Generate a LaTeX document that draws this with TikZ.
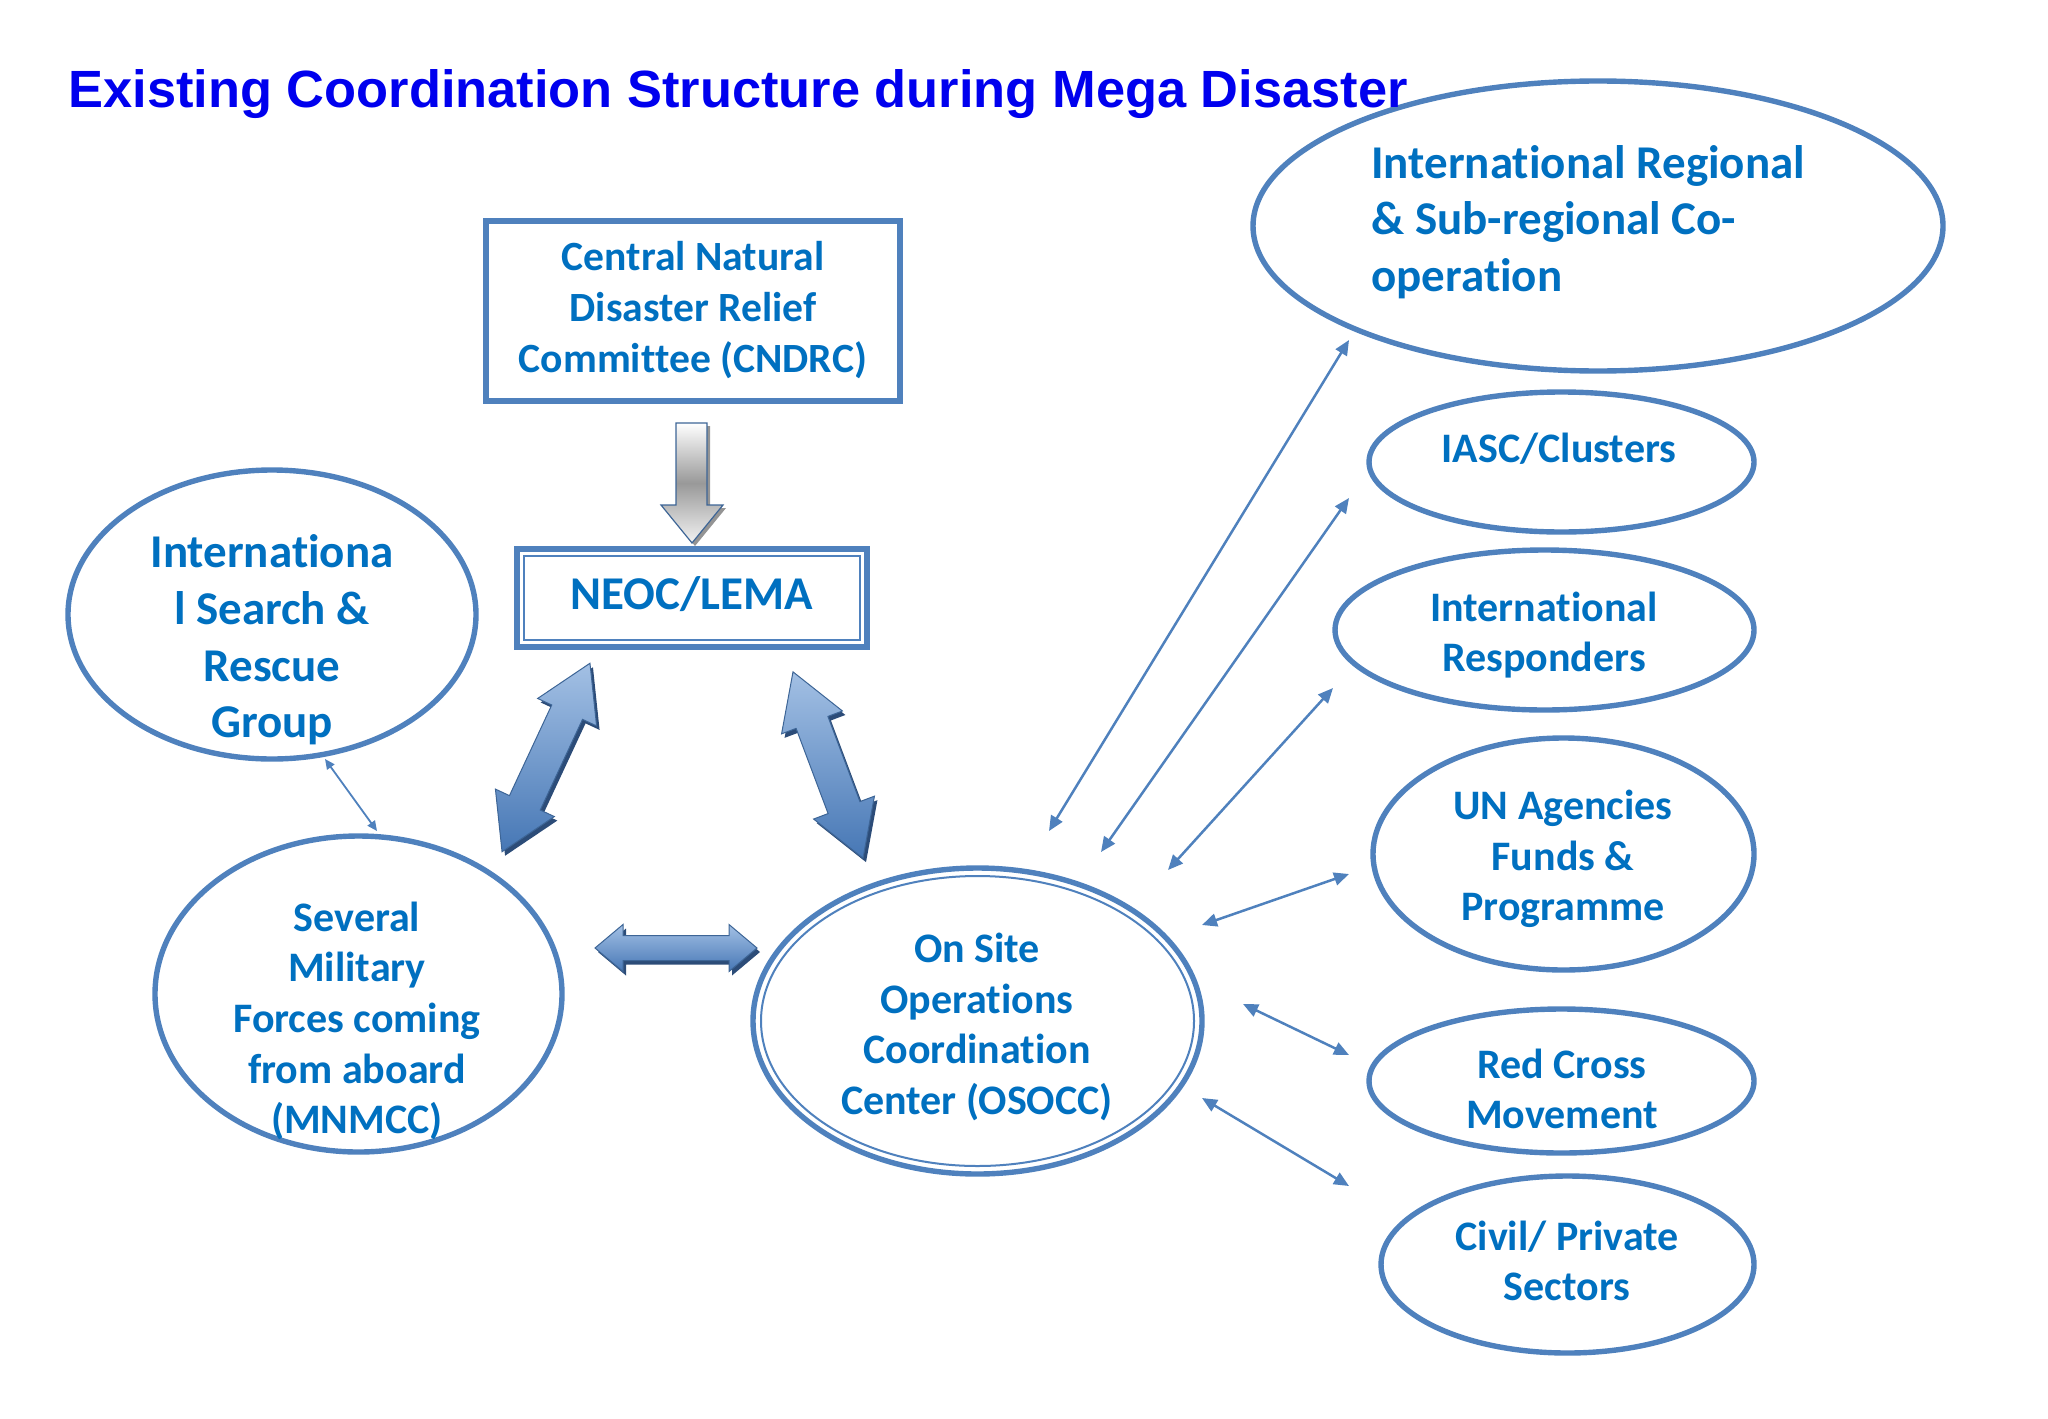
\documentclass[tikz,border=0pt]{standalone}
\usepackage{fontspec}
\setmainfont{Carlito}[Ligatures=CommonOff]
\newfontfamily\titlefont{Liberation Sans}
\usetikzlibrary{shapes.geometric,arrows.meta,calc}
\definecolor{lineblue}{HTML}{4F81BD}
\definecolor{txtblue}{HTML}{0070C0}
\definecolor{ttlblue}{HTML}{0000EE}
\definecolor{shadowblue}{HTML}{2C4C78}
\definecolor{arrowlight}{HTML}{A3C0E4}
\definecolor{arrowdark}{HTML}{4677B5}
\definecolor{arrowedge}{HTML}{3D6596}
\newcommand\blkarrow[7]{% cx, cy, angle, length, head length, head width, shaft width
  \pgfmathsetmacro\ba{#4/2}\pgfmathsetmacro\bb{#4/2-#5}%
  \pgfmathsetmacro\bc{#6/2}\pgfmathsetmacro\bd{#7/2}%
  \begin{scope}[shift={(#1+3,#2+4)}, rotate=#3]
    \fill[shadowblue] (-\ba,0) -- (-\bb,-\bc) -- (-\bb,-\bd) -- (\bb,-\bd) -- (\bb,-\bc) -- (\ba,0) -- (\bb,\bc) -- (\bb,\bd) -- (-\bb,\bd) -- (-\bb,\bc) -- cycle;
  \end{scope}
  \begin{scope}[shift={(#1,#2)}, rotate=#3]
    \shade[top color=arrowlight, bottom color=arrowdark, draw=arrowedge, line width=0.5pt] (-\ba,0) -- (-\bb,-\bc) -- (-\bb,-\bd) -- (\bb,-\bd) -- (\bb,-\bc) -- (\ba,0) -- (\bb,\bc) -- (\bb,\bd) -- (-\bb,\bd) -- (-\bb,\bc) -- cycle;
  \end{scope}}
\begin{document}
\begin{tikzpicture}[x=0.5pt,y=-0.5pt,
  oval/.style={ellipse, draw=lineblue, line width=2.7pt, fill=white, inner sep=0pt, outer sep=0pt},
  boxed/.style={draw=lineblue, line width=3pt, fill=white, inner sep=0pt, outer sep=0pt},
  lbl/.style={text=txtblue, font=\bfseries\fontsize{21}{25.3}\selectfont, align=center, inner sep=0pt},
  biglbl/.style={lbl, font=\bfseries\fontsize{23.5}{28.3}\selectfont},
  thinarrow/.style={draw=lineblue, line width=1.25pt, {Triangle[length=7.5pt,width=6.5pt]}-{Triangle[length=7.5pt,width=6.5pt]}}
]
\useasboundingbox (0,0) rectangle (2048,1418);

% boxes
\node[boxed, minimum width=207pt, minimum height=90pt] (cndrc) at (693,311) {};
\node[lbl, font=\bfseries\fontsize{20.8}{25.3}\selectfont] (cndrcT) at (693,310) {Central Natural\\Disaster Relief\\Committee (CNDRC)};
\node[boxed, minimum width=175pt, minimum height=49pt] (neoc) at (692,598) {};
\draw[lineblue, line width=1pt] ([shift={(7,7)}]neoc.north west) rectangle ([shift={(-7,-7)}]neoc.south east);
\node[biglbl] (neocT) at (692,594) {NEOC/LEMA};

% gray arrow CNDRC -> NEOC
\fill[gray!60!black, opacity=0.6] (679,426) -- (710,426) -- (710,508) -- (726,508) -- (695,546) -- (664,508) -- (679,508) -- cycle;
\shade[top color=white, bottom color=white!90!gray, middle color=gray!80, draw=arrowedge, line width=0.6pt]
  (676,423) -- (707,423) -- (707,505) -- (723,505) -- (692,543) -- (661,505) -- (676,505) -- cycle;

% left ellipses
\node[oval, minimum width=204pt, minimum height=144.5pt] (search) at (272,614.5) {};
\node[biglbl] (searchT) at (272,640) {Internationa\\l Search \&\\Rescue\\Group};
\node[oval, minimum width=203.5pt, minimum height=158pt] (military) at (358.5,994) {};
\node[lbl] (militaryT) at (357,1021) {Several\\Military\\Forces coming\\from aboard\\(MNMCC)};

% OSOCC
\node[oval, minimum width=224.5pt, minimum height=153pt] (osocc) at (977.5,1021) {};
\node[ellipse, draw=lineblue, line width=1pt, inner sep=0pt, minimum width=216.5pt, minimum height=145pt] (osoccIn) at (osocc.center) {};
\node[lbl] (osoccT) at (977,1027) {On Site\\Operations\\Coordination\\Center (OSOCC)};

% right ellipses
\node[oval, minimum width=345pt, minimum height=145pt] (regional) at (1598,226) {};
\node[biglbl, align=left, anchor=west] (regionalT) at (1371,222) {International Regional\\\& Sub-regional Co-\\operation};
\node[oval, minimum width=192.5pt, minimum height=70pt] (iasc) at (1561.5,462) {};
\node[lbl] (iascT) at (1559,449) {IASC/Clusters};
\node[oval, minimum width=209.5pt, minimum height=80pt] (intresp) at (1544.5,630) {};
\node[lbl] (intrespT) at (1544,635) {International\\Responders};
\node[oval, minimum width=190.5pt, minimum height=116pt] (un) at (1563.5,854) {};
\node[lbl] (unT) at (1563,859) {UN Agencies\\Funds \&\\Programme};
\node[oval, minimum width=192.5pt, minimum height=72pt] (redcross) at (1561.5,1081) {};
\node[lbl] (redcrossT) at (1562,1089) {Red Cross\\Movement};
\node[oval, minimum width=186.5pt, minimum height=88.5pt] (civil) at (1567.5,1264.5) {};
\node[lbl] (civilT) at (1567,1261) {Civil/ Private\\Sectors};

% block arrows
\blkarrow{546}{757.5}{65}{208}{54}{65}{34}
\blkarrow{828}{765}{-69.4}{199}{54}{65}{34}
\blkarrow{676}{948}{0}{162}{28}{47}{25}

% thin arrows
\coordinate (a1s) at (1049,831); \coordinate (a1e) at (1349,340);
\coordinate (a2s) at (1101,852); \coordinate (a2e) at (1349,498);
\coordinate (a3s) at (1168,870); \coordinate (a3e) at (1333,688);
\coordinate (a4s) at (1202,925); \coordinate (a4e) at (1349,874);
\coordinate (a5s) at (1243,1004); \coordinate (a5e) at (1349,1055);
\coordinate (a6s) at (1202,1098); \coordinate (a6e) at (1349,1186);
\coordinate (a7s) at (325,759); \coordinate (a7e) at (377,831);
\draw[thinarrow] (a1s) -- (a1e);
\draw[thinarrow] (a2s) -- (a2e);
\draw[thinarrow] (a3s) -- (a3e);
\draw[thinarrow] (a4s) -- (a4e);
\draw[thinarrow] (a5s) -- (a5e);
\draw[thinarrow] (a6s) -- (a6e);
\draw[thinarrow, line width=0.9pt, {Triangle[length=5pt,width=4.5pt]}-{Triangle[length=5pt,width=4.5pt]}] (a7s) -- (a7e);

% title
\node[anchor=base west, inner sep=0pt, text=ttlblue, font=\titlefont\bfseries\fontsize{26.2}{30}\selectfont] (title) at (68,108) {Existing Coordination Structure during Mega Disaster};
\end{tikzpicture}
\end{document}
